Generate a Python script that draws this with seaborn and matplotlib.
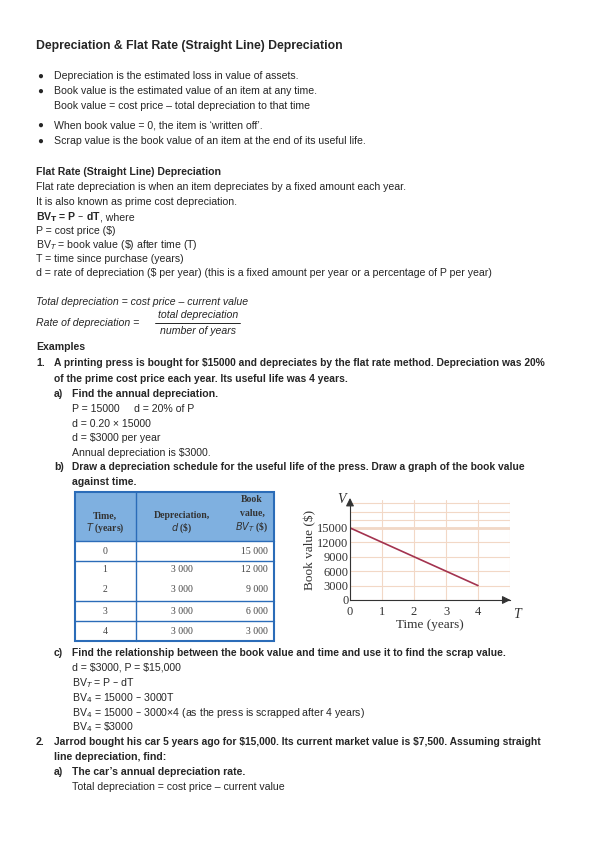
import matplotlib
matplotlib.use("Agg")
import matplotlib.pyplot as plt
import seaborn as sns
import pandas as pd
from matplotlib.patches import Rectangle

years = [0, 1, 2, 3, 4]
depreciation = ["", "3 000", "3 000", "3 000", "3 000"]
book_value = [15000, 12000, 9000, 6000, 3000]
book_value_labels = ["15 000", "12 000", "9 000", "6 000", "3 000"]
y_ticks = [0, 3000, 6000, 9000, 12000, 15000]

sns.set_theme(style="white")
plt.rcParams["font.family"] = ["Liberation Sans", "DejaVu Sans"]

W, H = 595, 842
fig = plt.figure(figsize=(W / 100, H / 100), dpi=100)


def txt(x, y, s, size=7.6, bold=False, italic=False, math=False, **kw):
    fig.text(x / W, 1 - y / H, s, fontsize=size, va="center", ha=kw.pop("ha", "left"),
             fontweight="bold" if bold else "normal",
             fontstyle="italic" if italic else "normal", parse_math=math, **kw)


txt(36, 46, "Depreciation & Flat Rate (Straight Line) Depreciation", size=8.8, bold=True)
bullets = [(76, "Depreciation is the estimated loss in value of assets."),
           (91, "Book value is the estimated value of an item at any time."),
           (125, "When book value = 0, the item is ‘written off’."),
           (141, "Scrap value is the book value of an item at the end of its useful life.")]
for y, s in bullets:
    txt(37, y, "●", size=7)
    txt(54, y, s)
txt(54, 106, "Book value = cost price – total depreciation to that time")

txt(36, 172, "Flat Rate (Straight Line) Depreciation", bold=True)
txt(36, 187, "Flat rate depreciation is when an item depreciates by a fixed amount each year.")
txt(36, 202, "It is also known as prime cost depreciation.")
txt(36, 217, r"BV$_\mathbf{T}$ = P – dT", bold=True, math=True)
txt(100, 217, ", where")
txt(36, 231, "P = cost price ($)")
txt(36, 245, r"BV$_T$ = book value (\$) after time (T)", math=True)
txt(36, 259, "T = time since purchase (years)")
txt(36, 273, "d = rate of depreciation ($ per year) (this is a fixed amount per year or a percentage of P per year)")

txt(36, 302, "Total depreciation = cost price – current value", italic=True)
txt(36, 323, "Rate of depreciation =", italic=True)
txt(198, 315, "total depreciation", italic=True, ha="center")
txt(198, 331, "number of years", italic=True, ha="center")
fig.add_artist(plt.Line2D([155 / W, 240 / W], [1 - 323 / H] * 2, color="black", lw=0.6))

txt(36, 347, "Examples", bold=True)
txt(36, 363, "1.", bold=True)
txt(54, 363, "A printing press is bought for $15000 and depreciates by the flat rate method. Depreciation was 20%", bold=True, size=7.4)
txt(54, 379, "of the prime cost price each year. Its useful life was 4 years.", bold=True, size=7.4)
txt(54, 394, "a)", bold=True)
txt(72, 394, "Find the annual depreciation.", bold=True)
for y, s in [(409, "P = 15000     d = 20% of P"), (424, "d = 0.20 × 15000"),
             (438, "d = $3000 per year"), (453, "Annual depreciation is $3000.")]:
    txt(72, y, s)
txt(54, 467, "b)", bold=True)
txt(72, 467, "Draw a depreciation schedule for the useful life of the press. Draw a graph of the book value", bold=True, size=7.4)
txt(72, 482, "against time.", bold=True)

# table
tax = fig.add_axes([0, 0, 1, 1])
tax.set_xlim(0, W)
tax.set_ylim(H, 0)
tax.axis("off")
blue = "#2b6cb8"
tax.add_patch(Rectangle((75, 492), 199, 49, facecolor="#7fb0e0", edgecolor="none"))
tax.add_patch(Rectangle((75, 492), 199, 149, facecolor="none", edgecolor=blue, lw=1.5))
tax.plot([136, 136], [492, 641], color=blue, lw=1)
for yb in [541, 561, 601, 621]:
    tax.plot([75, 274], [yb, yb], color=blue, lw=1)
serif = ["Liberation Serif", "DejaVu Serif"]
hdr = dict(family=serif, fontsize=7, fontweight="bold", ha="center", va="center", color="#333333")
tax.text(105, 516, "Time,", **hdr)
tax.text(105, 528, r"$\mathit{T}$ (years)", **hdr)
tax.text(182, 516, "Depreciation,", **hdr)
tax.text(182, 528, r"$\mathit{d}$ (\$)", **hdr)
tax.text(252, 500, "Book", **hdr)
tax.text(252, 513, "value,", **hdr)
tax.text(252, 527, r"$\mathbf{\mathit{BV_T}}$ (\$)", **hdr)
row_y = [551, 569, 590, 611, 631]
for ty, t, d, b in zip(row_y, years, depreciation, book_value_labels):
    tax.text(105, ty, str(t), family=serif, fontsize=7, ha="center", va="center", color="#444444")
    tax.text(182, ty, d, family=serif, fontsize=7, ha="center", va="center", color="#444444")
    tax.text(268, ty, b, family=serif, fontsize=7, ha="right", va="center", color="#444444")

# chart
ax = fig.add_axes([350 / W, 1 - 600 / H, (510 - 350) / W, (600 - 500) / H])
df = pd.DataFrame({"T": years, "BV": book_value})
sns.lineplot(data=df, x="T", y="BV", ax=ax, color="#a3334f", lw=1.2)
ax.set_xlim(0, 5)
ax.set_ylim(0, 20800)
ax.set_xticks([0, 1, 2, 3, 4, 5])
ax.set_xticklabels(["0", "1", "2", "3", "4", ""], family=serif, fontsize=9, color="#333333")
ax.set_yticks(y_ticks)
ax.set_yticklabels([str(v) for v in y_ticks], family=serif, fontsize=9, color="#333333")
ax.set_yticks([16700, 18400, 20100], minor=True)
ax.grid(True, which="both", color="#f2d8c6", lw=0.8)
ax.axhline(15000, color="#f2d8c6", lw=2, zorder=0)
ax.tick_params(axis="y", which="major", length=3, direction="in", color="#333333", pad=1)
ax.tick_params(axis="both", which="minor", length=0)
ax.tick_params(axis="x", length=0, pad=4)
for side in ["top", "right"]:
    ax.spines[side].set_visible(False)
for side in ["left", "bottom"]:
    ax.spines[side].set_color("#333333")
    ax.spines[side].set_linewidth(0.8)
ax.annotate("", xy=(5.1, 0), xytext=(4.8, 0), annotation_clip=False,
            arrowprops=dict(arrowstyle="-|>", color="#333333", lw=0.8))
ax.annotate("", xy=(0, 21800), xytext=(0, 20000), annotation_clip=False,
            arrowprops=dict(arrowstyle="-|>", color="#333333", lw=0.8))
ax.set_xlabel("Time (years)", family=serif, fontsize=9.5, color="#333333", labelpad=1)
ax.set_ylabel("Book value (\\$)", family=serif, fontsize=9.5, color="#333333", labelpad=1)
ax.text(5.1, -3000, "T", family=serif, fontsize=10, fontstyle="italic", va="center", color="#333333")
ax.text(-0.4, 21000, "V", family=serif, fontsize=10, fontstyle="italic", va="center", color="#333333")

txt(54, 653, "c)", bold=True)
txt(72, 653, "Find the relationship between the book value and time and use it to find the scrap value.", bold=True, size=7.4)
for y, s in [(668, "d = \\$3000, P = \\$15,000"), (683, r"BV$_T$ = P – dT"),
             (698, r"BV$_4$ = 15000 – 3000T"),
             (713, r"BV$_4$ = 15000 – 3000×4 (as the press is scrapped after 4 years)"),
             (727, r"BV$_4$ = \$3000")]:
    txt(72, y, s, math=True)
txt(36, 742, "2.", bold=True)
txt(54, 742, "Jarrod bought his car 5 years ago for $15,000. Its current market value is $7,500. Assuming straight", bold=True, size=7.4)
txt(54, 757, "line depreciation, find:", bold=True)
txt(54, 772, "a)", bold=True)
txt(72, 772, "The car’s annual depreciation rate.", bold=True)
txt(72, 787, "Total depreciation = cost price – current value")

fig.savefig("out.png", dpi=100, facecolor="white")
